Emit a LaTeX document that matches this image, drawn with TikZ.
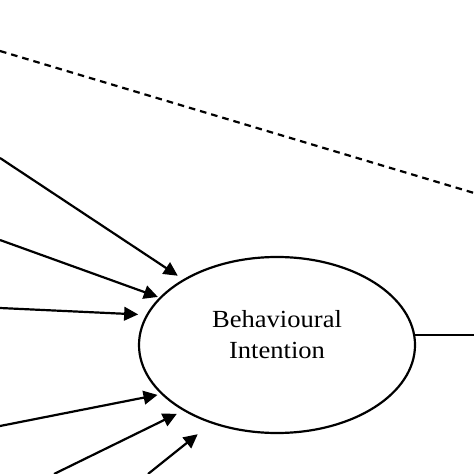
\documentclass[tikz,border=0pt]{standalone}
\usepackage{fontspec}
\setmainfont[FakeStretch=1.08]{Liberation Serif}
\usetikzlibrary{shapes.geometric,arrows.meta}

\begin{document}
\begin{tikzpicture}[x=0.5pt,y=-0.5pt,
    arr/.style={-{Triangle[length=7pt,width=6.8pt]},line width=1.1pt}]
    \useasboundingbox (0,0) rectangle (474,474);

    % latent construct
    \node[draw,ellipse,line width=1.1pt,minimum width=138pt,minimum height=88pt,
        label={[name=bitext,align=center,font=\fontsize{12.3}{15.5}\selectfont,yshift=5.4pt]center:Behavioural\\Intention}]
        (bi) at (277,345) {};

    % incoming paths
    \foreach \i/\sx/\sy/\ang/\gap in {1/0/158/145/3.2, 2/0/240/158/0.8, 3/0/308/167.2/4,
                                      4/0/426/203.2/1.8, 5/54/474/215.5/3.5, 6/148/474/230.1/8.6}{
        \coordinate (s\i) at (\sx,\sy);
        \draw[arr,shorten >=\gap pt] (s\i) -- (bi.\ang);
    }

    % outgoing path
    \coordinate (r) at (474,335);
    \draw[line width=1.1pt] (bi.4) -- (bi.4 -| r);

    % moderating path
    \coordinate (d1) at (0,51);
    \coordinate (d2) at (474,193);
    \draw[line width=1.1pt,dash pattern=on 3.3pt off 2.5pt] (d1) -- (d2);
\end{tikzpicture}
\end{document}
